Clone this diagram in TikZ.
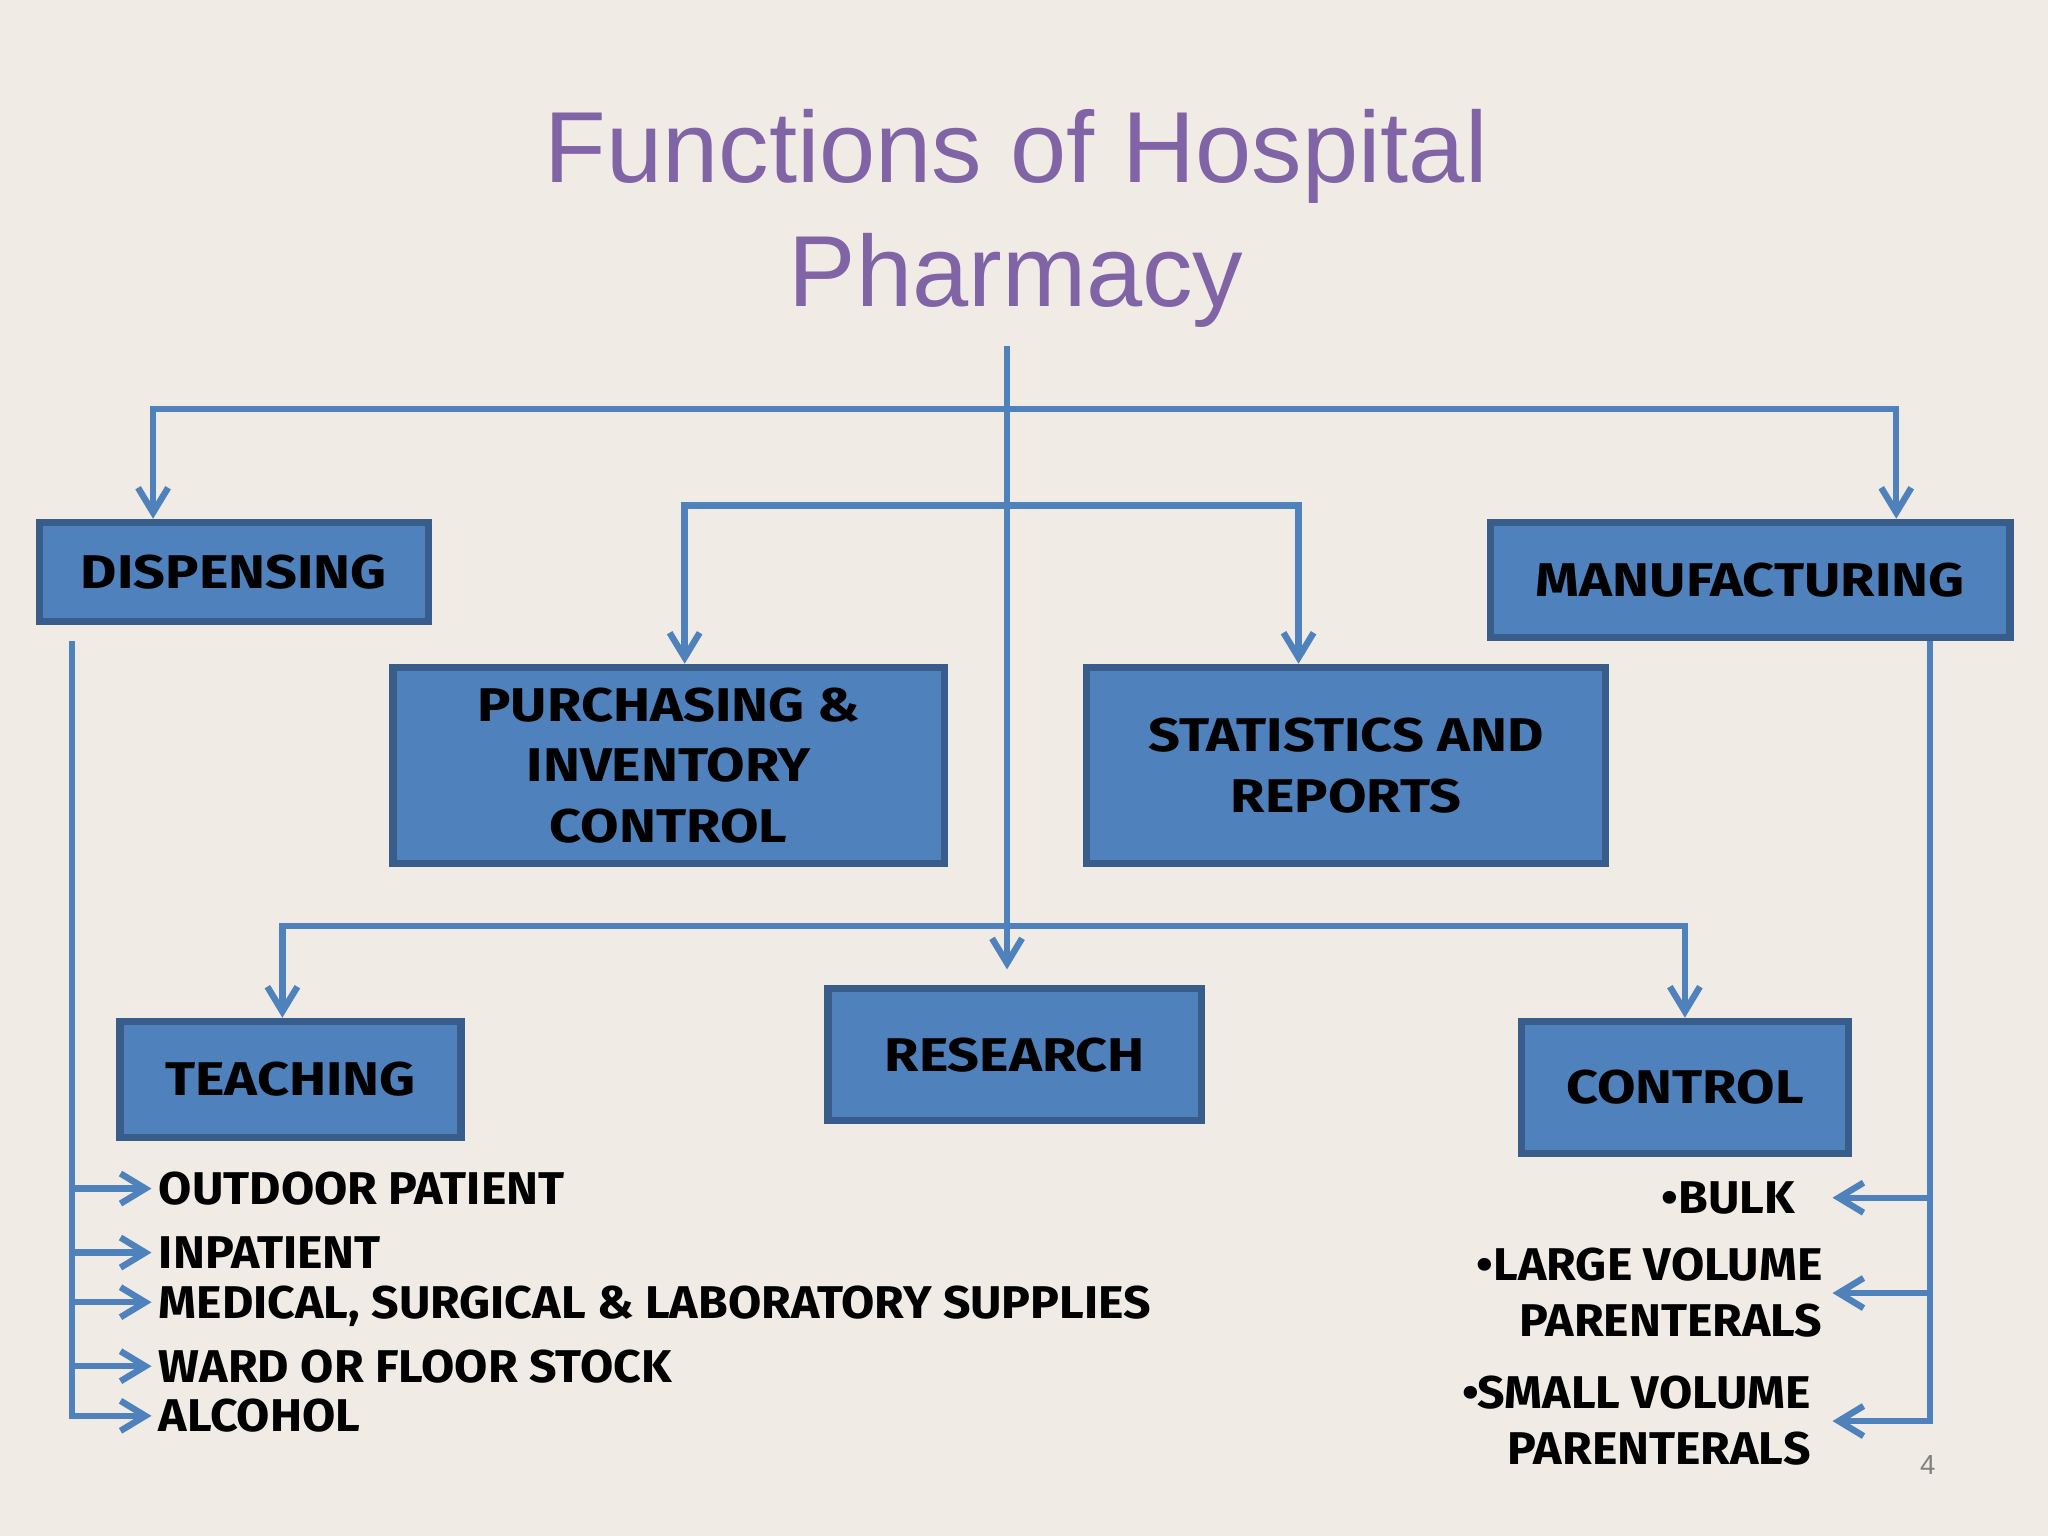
\documentclass[tikz,border=0pt]{standalone}
\usepackage{fontspec}
\setmainfont{Liberation Sans}
\newfontfamily\boxfont{Fira Sans}[FakeStretch=1.18]
\newfontfamily\itemfont{Fira Sans}[FakeStretch=1.05]
\usetikzlibrary{arrows.meta,calc}
\definecolor{bg}{RGB}{240,236,229}
\definecolor{boxfill}{RGB}{79,129,189}
\definecolor{boxline}{RGB}{56,93,138}
\definecolor{conncol}{RGB}{79,129,189}
\definecolor{titlecol}{RGB}{128,100,166}
\tikzset{
  fbox/.style={draw=boxline, line width=1.6pt, fill=boxfill, inner sep=0pt,
    font=\boxfont\bfseries\fontsize{10.3}{13.2}\selectfont, align=center, text=black},
  conn/.style={draw=conncol, line width=1.4pt},
  arr/.style={conn, -{Straight Barb[length=1.9mm,width=2.3mm]}},
  item/.style={inner sep=0pt, font=\itemfont\bfseries\fontsize{10}{12.2}\selectfont, text height=6.9pt, text depth=0pt},
  titletext/.style={font=\fontsize{22}{26}\selectfont, text=titlecol, inner sep=0pt}
}
\begin{document}
\begin{tikzpicture}[x=1cm,y=-1cm]
\path[fill=bg] (0,0) rectangle (15.68,11.76);
% title
\node[titletext, anchor=base] (t1) at (7.78,1.40) {Functions of Hospital};
\node[titletext, anchor=base] (t2) at (7.78,2.35) {Pharmacy};
% boxes
\node[fbox, minimum width=2.98cm, minimum height=0.76cm] (disp) at (1.79,4.38) {DISPENSING};
\node[fbox, minimum width=3.98cm, minimum height=0.88cm] (manu) at (13.40,4.44) {MANUFACTURING};
\node[fbox, minimum width=4.22cm, minimum height=1.50cm] (purch) at (5.12,5.86) {PURCHASING \&\\INVENTORY\\CONTROL};
\node[fbox, minimum width=3.97cm, minimum height=1.50cm] (stat) at (10.305,5.86) {STATISTICS AND\\REPORTS};
\node[fbox, minimum width=2.61cm, minimum height=0.89cm] (teach) at (2.225,8.265) {TEACHING};
\node[fbox, minimum width=2.86cm, minimum height=1.01cm] (res) at (7.77,8.075) {RESEARCH};
\node[fbox, minimum width=2.50cm, minimum height=1.01cm] (ctrl) at (12.90,8.325) {CONTROL};
% trunk
\coordinate (top) at (7.71,2.65);
\coordinate (j1) at (7.71,3.13);
\coordinate (j2) at (7.71,3.87);
\coordinate (j3) at (7.71,7.09);
\draw[conn] (top) -- (j3);
\draw[arr, shorten >=0.12cm] (j3) -- (j3 |- res.north);
\draw[arr] (j1) -| ([xshift=0.90cm]disp.north west);
\draw[arr] (j1) -| ([xshift=-0.90cm]manu.north east);
\draw[arr] (j2) -| ([xshift=2.26cm]purch.north west);
\draw[arr] (j2) -| ([xshift=1.65cm]stat.north west);
\draw[arr] (j3) -| ([xshift=1.27cm]teach.north west);
\draw[arr] (j3) -| (ctrl.north);
% dispensing list
\node[item, anchor=west] (l1) at (1.21,9.10) {OUTDOOR PATIENT};
\node[item, anchor=west] (l2) at (1.21,9.59) {INPATIENT};
\node[item, anchor=west] (l3) at (1.21,9.97) {MEDICAL, SURGICAL \& LABORATORY SUPPLIES};
\node[item, anchor=west] (l4) at (1.21,10.46) {WARD OR FLOOR STOCK};
\node[item, anchor=west] (l5) at (1.21,10.84) {ALCOHOL};
\coordinate (dtop) at ($(disp.south west)+(0.28,0.12)$);
\draw[arr, shorten >=0.05cm] (dtop) |- (l5.west);
\draw[arr, shorten >=0.05cm] (dtop |- l1.west) -- (l1.west);
\draw[arr, shorten >=0.05cm] (dtop |- l2.west) -- (l2.west);
\draw[arr, shorten >=0.05cm] (dtop |- l3.west) -- (l3.west);
\draw[arr, shorten >=0.05cm] (dtop |- l4.west) -- (l4.west);
% manufacturing list
\node[item, anchor=east] (m1) at (13.75,9.17) {•BULK};
\node[item, anchor=east, align=right, text height=, text depth=] (m2) at (13.96,9.90) {•LARGE VOLUME\\PARENTERALS};
\node[item, anchor=east, align=right, text height=, text depth=] (m3) at (13.87,10.88) {•SMALL VOLUME\\PARENTERALS};
\coordinate (mtop) at ([xshift=-0.64cm]manu.south east);
\draw[arr] (mtop) |- ([xshift=0.16cm]m3.east);
\draw[arr] (mtop |- m1.east) -- ([xshift=0.28cm]m1.east);
\draw[arr] (mtop |- m2.east) -- ([xshift=0.07cm]m2.east);
% page number
\node[font=\fontsize{6}{7}\selectfont, text=gray, inner sep=0pt] (pg) at (14.76,11.22) {4};
\end{tikzpicture}
\end{document}
